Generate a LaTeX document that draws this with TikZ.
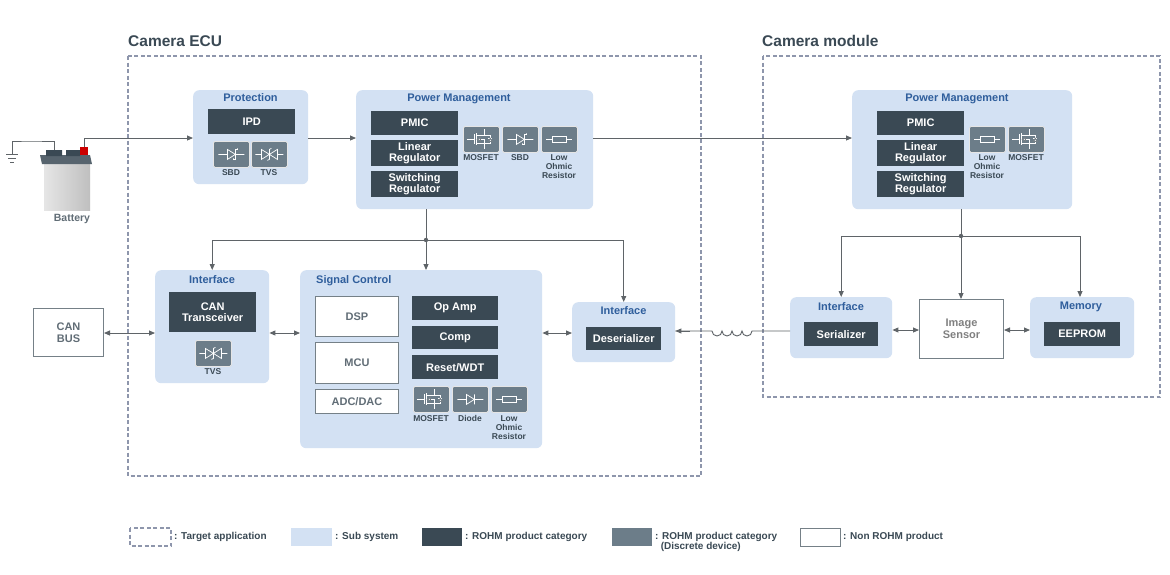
\documentclass[tikz,border=0pt]{standalone}
\usepackage{fontspec}
\setmainfont{Liberation Sans}
\usetikzlibrary{arrows.meta}
\definecolor{subc}{HTML}{D3E1F3}
\definecolor{darkc}{HTML}{3A4954}
\definecolor{discc}{HTML}{6C7D89}
\definecolor{titc}{HTML}{2F5E9C}
\definecolor{dashc}{HTML}{8E96AC}
\definecolor{linec}{HTML}{5F6468}
\tikzset{
 sub/.style={fill=subc,rounded corners=6pt,draw=none},
 dark/.style={fill=darkc,text=white,font=\bfseries\fontsize{11}{11.5}\selectfont,align=center,draw=none},
 white/.style={fill=white,draw=darkc!70,line width=1pt,text=darkc!80,font=\bfseries\fontsize{11}{12}\selectfont,align=center},
 disc/.style={fill=discc,draw=white!80!gray,line width=0.8pt,rounded corners=1.5pt},
 sym/.style={draw=white,line width=0.7pt},
 tit/.style={text=titc,font=\bfseries\fontsize{11}{12}\selectfont,inner sep=0},
 lab/.style={text=darkc,font=\bfseries\fontsize{8.5}{9}\selectfont,align=center,inner sep=0,anchor=north},
 area/.style={draw=dashc,dashed,line width=1.2pt,dash pattern=on 4pt off 2.5pt},
 big/.style={text=darkc,font=\bfseries\fontsize{15.5}{16}\selectfont,inner sep=0,anchor=west},
 wire/.style={draw=linec,line width=0.9pt},
 arr/.style={wire,-{Triangle[length=6pt,width=5pt]}},
 darr/.style={wire,{Triangle[length=6pt,width=5pt]}-{Triangle[length=6pt,width=5pt]}},
 leg/.style={text=darkc,font=\bfseries\fontsize{10}{10.5}\selectfont,anchor=west,inner sep=0,align=left}
}
\newcommand\bx[7]{\pgfmathsetmacro\bw{#4-#2}\pgfmathsetmacro\bh{#5-#3}\node[#6,anchor=north west,minimum width=\bw pt,minimum height=\bh pt,inner sep=0] (#1) at (#2,#3) {#7};}
\newcommand\icon[4]{\node[disc,anchor=north west,minimum width=36pt,minimum height=26pt,inner sep=0] (#1) at (#2,#3) {};
 \begin{scope}[shift={(#1.center)}]\csname ic#4\endcsname\end{scope}}
\newcommand\icdiode{\draw[sym] (-13,0)--(-4,0) (4,0)--(13,0) (-4,-5)--(-4,5)--(4,0)--cycle (4,-5)--(4,5);}
\newcommand\icsbd{\draw[sym] (-13,0)--(-4,0) (4,0)--(13,0) (-4,-5)--(-4,5)--(4,0)--cycle (6,-6)--(6,-5)--(4,-5)--(4,5)--(2,5)--(2,4);}
\newcommand\ictvs{\draw[sym] (-14,0)--(-8,0) (8,0)--(14,0) (-8,-5)--(-8,5)--(0,0)--cycle (8,-5)--(8,5)--(0,0)--cycle (2,-6)--(0,-5)--(0,5)--(-2,6);}
\newcommand\icres{\draw[sym] (-13,0)--(-7,0) (7,0)--(13,0) (-7,-3) rectangle (7,3);}
\newcommand\icmos{\draw[sym] (-14,0)--(-7,0) (-7,-5)--(-7,5) (-5,-6)--(-5,6) (-5,-4)--(3,-4)--(3,-10) (-5,4)--(3,4)--(3,10) (-5,0)--(3,0)--(3,4) (3,-4)--(9,-4)--(9,4)--(3,4) (7,-1)--(11,-1);
 \fill[white] (-4,0)--(-1,-2)--(-1,2)--cycle (9,-1)--(7,2)--(11,2)--cycle;}
\begin{document}
\begin{tikzpicture}[x=1pt,y=-1pt]
\useasboundingbox[fill=white] (0,0) rectangle (1170,574);
\draw[area] (128,56) rectangle (701,476);
\draw[area] (763,56) rectangle (1160,397);
\node[big] (tecu) at (128,41) {Camera ECU};
\node[big] (tcm) at (762,41) {Camera module};
% Protection
\bx{prot}{193}{90}{308}{184}{sub}{}
\node[tit] (tprot) at (250.5,98) {Protection};
\bx{ipd}{208}{109}{295}{134}{dark}{IPD}
\icon{psbd}{213}{141}{sbd}
\icon{ptvs}{251}{141}{tvs}
\node[lab] at (231,169) {SBD};
\node[lab] at (269,169) {TVS};
% Power ECU
\bx{pm}{356}{90}{593}{209}{sub}{}
\node[tit] (tpm) at (459,99) {Power Management};
\bx{pmic}{371}{111}{458}{135}{dark}{PMIC}
\bx{lin}{371}{140}{458}{166}{dark}{Linear\\Regulator}
\bx{sw}{371}{171}{458}{197}{dark}{Switching\\Regulator}
\icon{pmos}{463}{126}{mos}
\icon{psbd2}{502}{126}{sbd}
\icon{pres}{541}{126}{res}
\node[lab] at (481,154) {MOSFET};
\node[lab] at (520,154) {SBD};
\node[lab] at (559,154) {Low\\Ohmic\\Resistor};
% Power module
\bx{pm2}{852}{90}{1072}{209}{sub}{}
\node[tit] (tpm2) at (957,99) {Power Management};
\bx{pmic2}{877}{111}{964}{135}{dark}{PMIC}
\bx{lin2}{877}{140}{964}{166}{dark}{Linear\\Regulator}
\bx{sw2}{877}{171}{964}{197}{dark}{Switching\\Regulator}
\icon{mres}{969}{126}{res}
\icon{mmos}{1008}{126}{mos}
\node[lab] at (987,154) {Low\\Ohmic\\Resistor};
\node[lab] at (1026,154) {MOSFET};
% Battery
\shade[left color=gray!20,right color=gray!50] (44,163) rectangle (90,210);
\fill[darkc!85] (40,155) -- (90,155) -- (92,164) -- (42,164) -- cycle;
\fill[darkc] (46,150) rectangle (62,156) (66,150) rectangle (80,156);
\fill[red!80!black] (80,147) rectangle (88,155);
\node[text=darkc!80,font=\bfseries\fontsize{10.5}{11}\selectfont,inner sep=0] (batt) at (72,219) {Battery};
\coordinate (gnd) at (12,154);
\coordinate (bneg) at (54,150);
\coordinate (bpos) at (84,147);
\draw[wire,line width=0.6pt] (gnd) |- (30,141) -| (bneg);
\draw[wire,line width=1pt] (6,154)--(18,154) (8,158)--(16,158) (10,162)--(14,162);
\draw[arr] (bpos) |- (prot.west |- 0,138);
\draw[arr] (prot.east |- 0,138) -- (pm.west |- 0,138);
\draw[arr] (pm.east |- 0,138) -- (pm2.west |- 0,138);
% Interface CAN
\bx{ifc}{155}{270}{269}{383}{sub}{}
\node[tit] (tifc) at (212,280) {Interface};
\bx{can}{169}{292}{256}{332}{dark}{CAN\\Transceiver}
\icon{ctvs}{195}{340}{tvs}
\node[lab] at (213,368) {TVS};
\bx{bus}{33}{308}{103}{356}{white}{CAN\\BUS}
% Signal control
\bx{sig}{300}{270}{542}{448}{sub}{}
\node[tit,anchor=west] (tsig) at (316,281) {Signal Control};
\bx{dsp}{315}{296}{398}{336}{white}{DSP}
\bx{mcu}{315}{342}{398}{383}{white}{MCU}
\bx{adc}{315}{389}{398}{413}{white}{ADC/DAC}
\bx{op}{412}{296}{498}{320}{dark}{Op Amp}
\bx{cmp}{412}{326}{498}{349}{dark}{Comp}
\bx{rst}{412}{355}{498}{379}{dark}{Reset/WDT}
\icon{smos}{413}{386}{mos}
\icon{sdio}{452}{386}{diode}
\icon{sres}{491}{386}{res}
\node[lab] at (431,415) {MOSFET};
\node[lab] at (470,415) {Diode};
\node[lab] at (509,415) {Low\\Ohmic\\Resistor};
% Deserializer
\bx{ifd}{572}{302}{675}{362}{sub}{}
\node[tit] (tifd) at (623.5,311) {Interface};
\bx{des}{586}{327}{661}{350}{dark}{Deserializer}
% Module
\bx{ifs}{790}{297}{892}{358}{sub}{}
\node[tit] (tifs) at (841,307) {Interface};
\bx{ser}{804}{322}{878}{346}{dark}{Serializer}
\bx{img}{919}{299}{1003}{358}{white}{\textcolor{gray}{Image}\\\textcolor{gray}{Sensor}}
\bx{mem}{1030}{297}{1134}{358}{sub}{}
\node[tit] (tmem) at (1081,307) {Memory};
\bx{eep}{1044}{322}{1120}{346}{dark}{EEPROM}
% connectors ECU
\coordinate (j1) at (426,240);
\draw[wire] (pm.south -| j1) -- (j1);
\fill[linec] (j1) circle (2.2pt);
\draw[arr] (j1) -| (ifc.north);
\draw[arr] (j1) -- (sig.north -| j1);
\draw[arr] (j1) -| (ifd.north);
\draw[darr] (bus.east |- 0,333) -- (ifc.west |- 0,333);
\draw[darr] (ifc.east |- 0,333) -- (sig.west |- 0,333);
\draw[darr] (sig.east |- 0,333) -- (ifd.west |- 0,333);
\draw[wire] (ifd.east |- 0,331) -- (712,331) arc[start angle=180,end angle=0,radius=5] arc[start angle=180,end angle=0,radius=5] arc[start angle=180,end angle=0,radius=5] arc[start angle=180,end angle=0,radius=5] -- (ifs.west |- 0,331);
\draw[arr] (690,331) -- (ifd.east |- 0,331);
% module connectors
\coordinate (j2) at (961,236);
\draw[wire] (pm2.south -| j2) -- (j2);
\fill[linec] (j2) circle (2.2pt);
\draw[arr] (j2) -| (ifs.north);
\draw[arr] (j2) -- (img.north -| j2);
\draw[arr] (j2) -| (mem.north -| 1080,0);
\draw[darr] (ifs.east |- 0,330) -- (img.west |- 0,330);
\draw[darr] (img.east |- 0,330) -- (mem.west |- 0,330);
% legend
\draw[area] (130,528) rectangle (171,546);
\node[leg] at (174,537) {: Target application};
\fill[subc] (291,528) rectangle (332,546);
\node[leg] at (335,537) {: Sub system};
\fill[darkc] (422,528) rectangle (462,546);
\node[leg] at (465,537) {: ROHM product category};
\fill[discc] (612,528) rectangle (652,546);
\node[leg,anchor=north west] at (655,532) {: ROHM product category\\\ \ (Discrete device)};
\draw[darkc!70,line width=1pt] (800,528) rectangle (840,546);
\node[leg] at (843,537) {: Non ROHM product};
\end{tikzpicture}
\end{document}
